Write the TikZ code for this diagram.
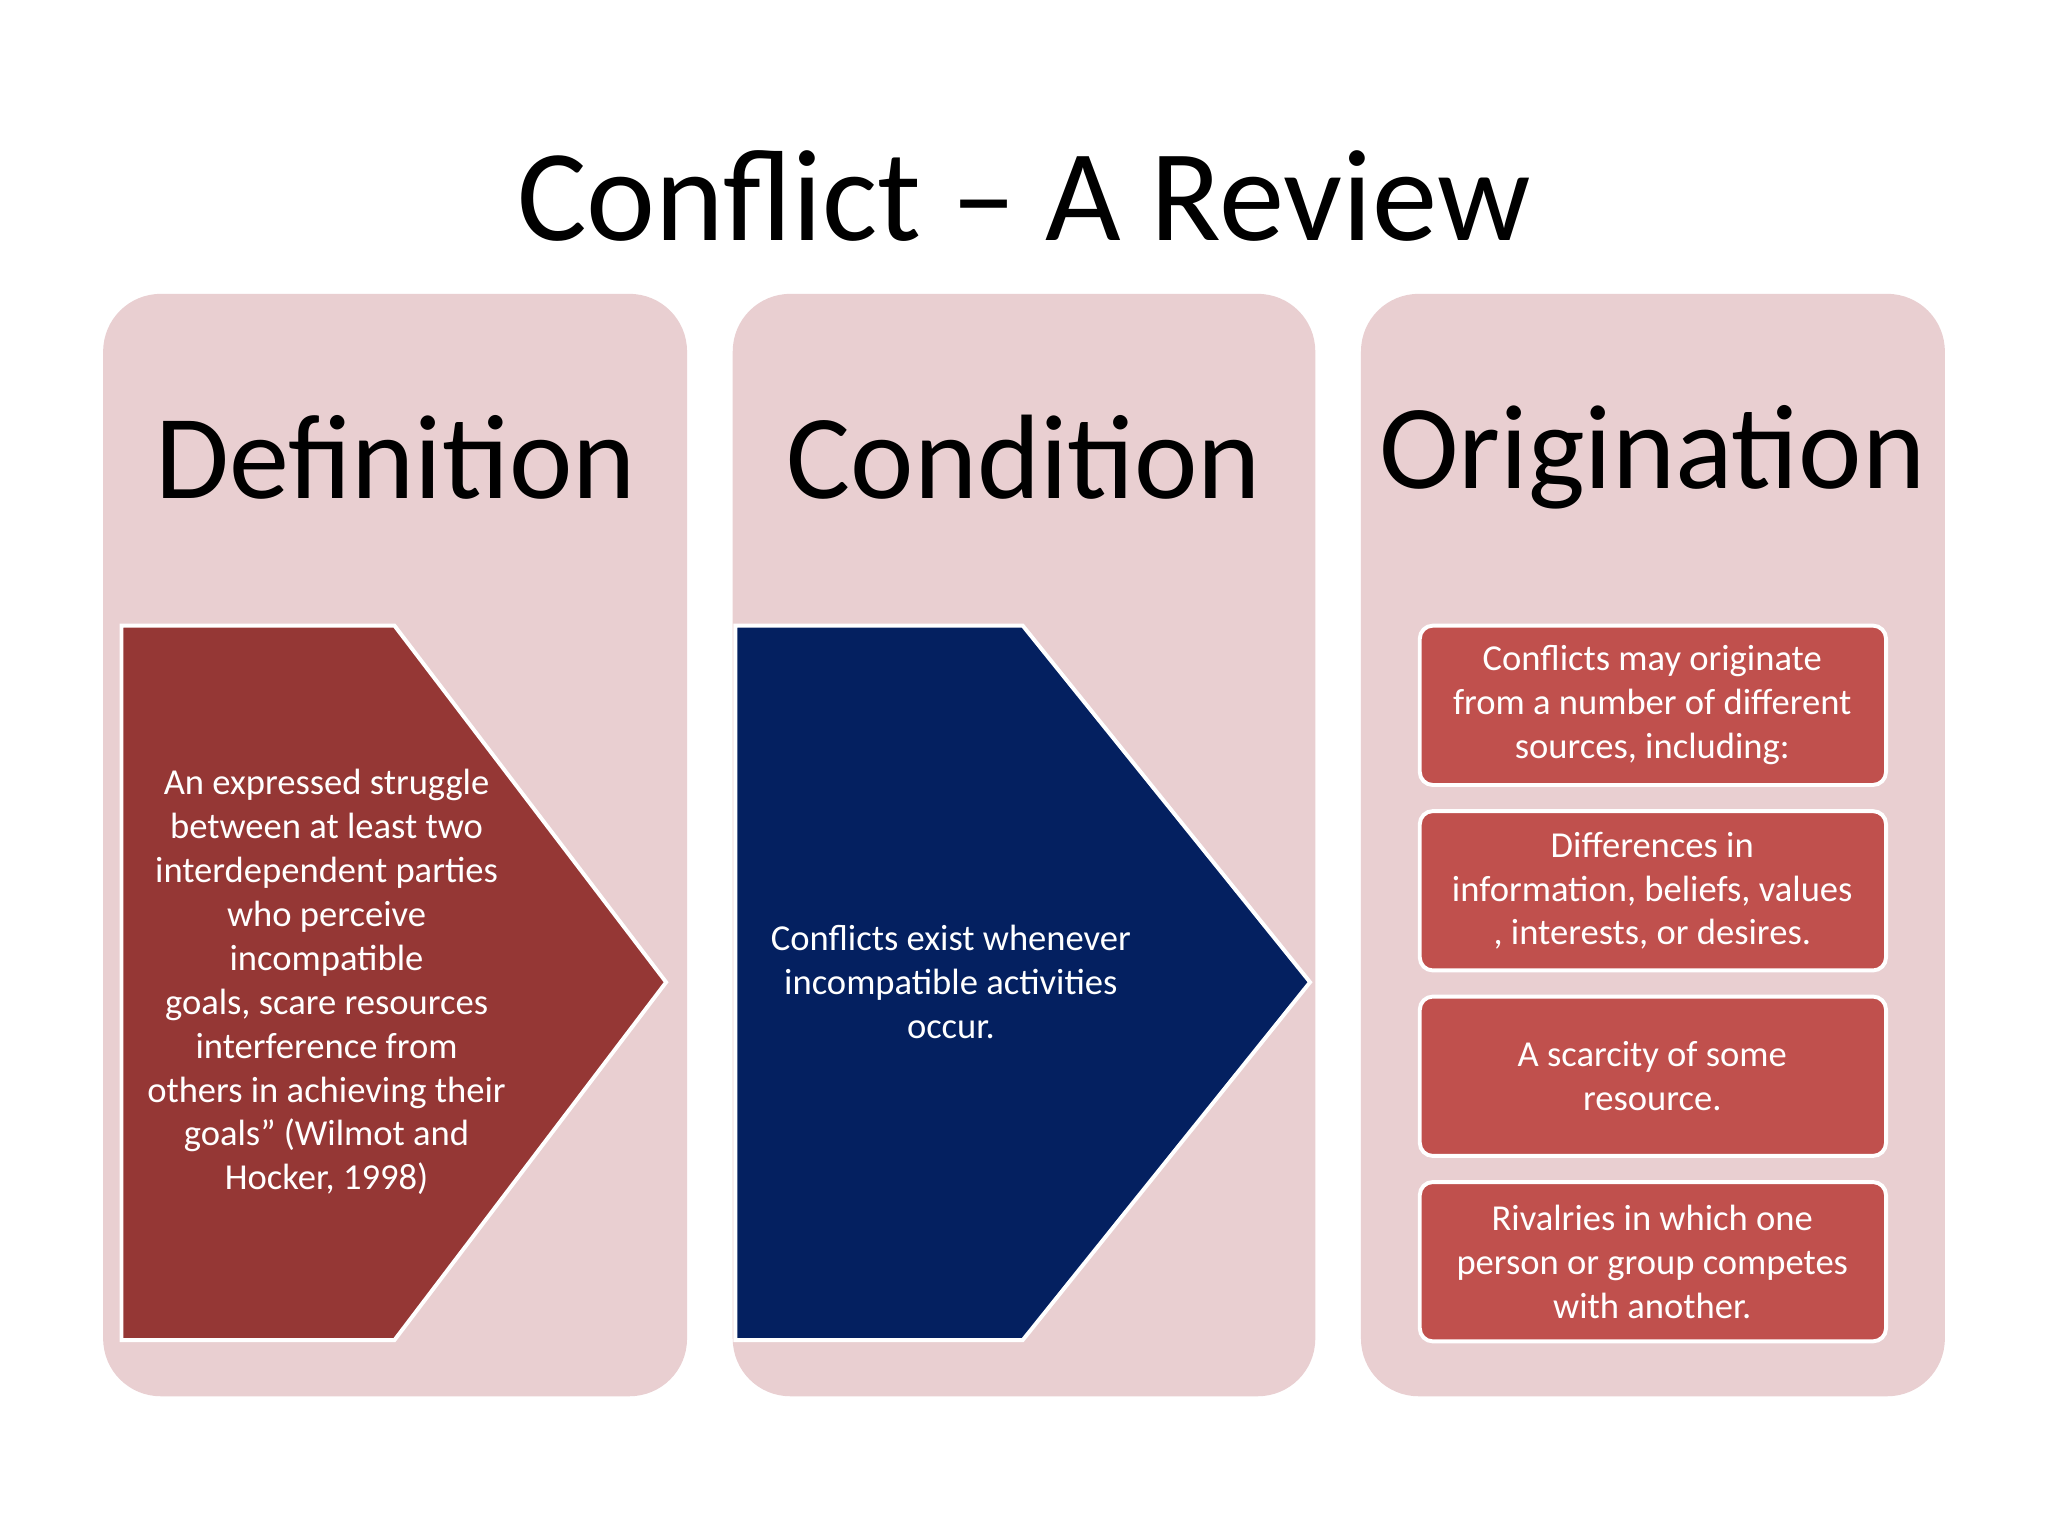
\documentclass[tikz,border=0pt]{standalone}
\usepackage{fontspec}
\setmainfont{Carlito}
\begin{document}
\begin{tikzpicture}[x=0.5pt,y=-0.5pt,
  panel/.style={fill=pinkbg,draw=none,rounded corners=22pt},
  head/.style={font=\fontsize{46}{50}\selectfont,anchor=center},
  body/.style={font=\fontsize{14}{16.8}\selectfont,text=white,align=center},
  rbox/.style={fill=boxred,draw=white,line width=1.5pt,rounded corners=5pt}]
\definecolor{pinkbg}{HTML}{E9CFD1}
\definecolor{chevred}{HTML}{953735}
\definecolor{chevblue}{HTML}{042060}
\definecolor{boxred}{HTML}{C0504D}
\useasboundingbox (0,0) rectangle (1568,1176);
\fill[white] (0,0) rectangle (1568,1176);
\node (title) at (784,150) {\fontsize{50}{54}\selectfont Conflict -- A Review};
\fill[panel] (79,225) rectangle (526,1069);
\fill[panel] (561,225) rectangle (1007,1069);
\fill[panel] (1042,225) rectangle (1489,1069);
\node[head] (h1) at (303,350) {Definition};
\node[head] (h2) at (784,350) {Condition};
\node[head] (h3) at (1265,350) {Origination};
\draw[fill=chevred,draw=white,line width=1.5pt] (93,479) -- (302,479) -- (510,752) -- (302,1026) -- (93,1026) -- cycle;
\draw[fill=chevblue,draw=white,line width=1.5pt] (563,479) -- (783,479) -- (1003,752) -- (783,1026) -- (563,1026) -- cycle;
\node[body] (t1) at (250,752) {An expressed struggle\\between at least two\\interdependent parties\\who perceive\\incompatible\\goals, scare resources\\interference from\\others in achieving their\\goals'' (Wilmot and\\Hocker, 1998)};
\node[body] (t2) at (728,752) {Conflicts exist whenever\\incompatible activities\\occur.};
\draw[rbox] (1087,479) rectangle (1444,601);
\draw[rbox] (1087,621) rectangle (1444,743);
\draw[rbox] (1087,763) rectangle (1444,885);
\draw[rbox] (1087,905) rectangle (1444,1027);
\node[body] (b1) at (1265,540) {Conflicts may originate\\from a number of different\\sources, including:};
\node[body] (b2) at (1265,682) {Differences in\\information, beliefs, values\\, interests, or desires.};
\node[body] (b3) at (1265,824) {A scarcity of some\\resource.};
\node[body] (b4) at (1265,966) {Rivalries in which one\\person or group competes\\with another.};
\end{tikzpicture}
\end{document}
